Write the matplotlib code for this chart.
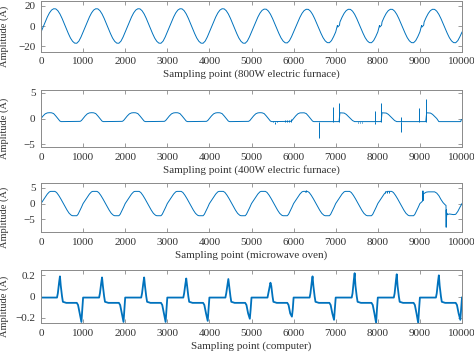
import numpy as np
import matplotlib
matplotlib.use("Agg")
import matplotlib.pyplot as plt

plt.rcParams['font.family'] = ['Liberation Serif', 'DejaVu Serif']

# ---------------- data ----------------
x_ticks = [0, 1000, 2000, 3000, 4000, 5000, 6000, 7000, 8000, 9000, 10000]
x_labels = ["Sampling point (800W electric furnace)",
            "Sampling point (400W electric furnace)",
            "Sampling point (microwave oven)",
            "Sampling point (computer)"]

# Panel 1: 800W furnace, one-cycle shape (offset within 1000-sample cycle)
p1_tx = [0, 50, 100, 150, 200, 250, 300, 350, 400, 450, 500, 550, 600, 650, 700, 750, 800, 850, 900, 950]
p1_ty = [-6.0, -1.0, 4.0, 8.8, 12.8, 15.6, 16.9, 16.8, 15.0, 11.8, 7.5, 2.6, -2.5, -7.4, -11.8, -15.0, -16.8, -16.9, -14.8, -10.8]
p1_cycle_scale = [1.0, 1.0, 1.0, 1.0, 1.0, 0.98, 0.97, 0.97, 0.97, 0.97]
p1_end = -6.0
# small shelves on rising edge in late cycles: (x, y)
p1_shelf_x = [7040, 7090, 8040, 8090, 9040, 9090]
p1_shelf_y = [0.5, 0.8, 0.5, 0.8, 0.5, 0.8]

# Panel 2: 400W furnace hump shape
p2_tx = [0, 50, 100, 150, 200, 250, 300, 350, 400, 450, 480, 930, 960]
p2_ty = [0.0, 0.5, 0.9, 1.08, 1.12, 1.1, 0.95, 0.5, 0.0, -0.5, -0.6, -0.55, -0.4]
p2_late_x = [6000, 6050, 6100, 6150, 6250, 6300, 6350, 6400, 6450, 6480, 7080,
             7100, 7200, 7250, 7300, 7350, 7400, 7450, 8080,
             8100, 8200, 8250, 8300, 8350, 8400, 8450, 9140,
             9160, 9250, 9300, 9350, 9400, 9450, 9970, 9985, 10000]
p2_late_y = [0.0, 0.5, 0.9, 1.08, 1.1, 0.95, 0.5, 0.0, -0.5, -0.6, -0.6,
             1.1, 1.05, 0.8, 0.4, 0.0, -0.4, -0.6, -0.6,
             1.1, 1.05, 0.8, 0.4, 0.0, -0.4, -0.6, -0.6,
             1.1, 1.05, 0.8, 0.4, 0.0, -0.6, -0.6, -0.2, -0.2]
p2_spike_x = [5520, 5560, 5600, 5800, 5850, 5900, 5950, 6600, 6940, 7080, 7530, 7580, 7630,
              7930, 7930, 8080, 8550, 8550, 8990, 9140]
p2_spike_lo = [-0.6, -1.0, -0.6, -0.6, -0.6, -0.6, -0.6, -3.8, -0.6, -0.6, -0.9, -0.8, -0.8,
               -0.6, -1.0, -0.6, -2.6, -0.6, -0.6, -0.6]
p2_spike_hi = [-0.4, -0.6, -0.4, -0.3, -0.2, -0.2, -0.1, -0.6, 2.2, 3.0, -0.6, -0.6, -0.6,
               1.5, -0.6, 3.0, -0.6, 0.3, 2.1, 3.7]

# Panel 3: microwave oven, clipped-sine cycle shape
p3_tx = [0, 50, 100, 150, 200, 230, 330, 370, 420, 470, 520, 570, 620, 670, 720, 750, 850, 880, 920, 960]
p3_ty = [0.0, 1.0, 2.0, 3.0, 3.7, 3.85, 3.85, 3.5, 2.6, 1.5, 0.3, -0.9, -2.1, -3.1, -3.7, -3.85, -3.85, -3.4, -2.3, -1.2]
p3_last_x = [9000, 9050, 9068, 9072, 9075, 9080, 9100, 9150, 9200, 9350, 9400, 9450, 9500, 9550,
             9600, 9620, 9624, 9628, 9632, 9640, 9650, 9700, 9800, 9850, 9900, 9950, 10000]
p3_last_y = [0.0, 0.6, 0.9, 4.0, 1.0, 3.0, 3.2, 3.6, 3.7, 3.7, 3.3, 2.5, 1.3, 0.3,
             -0.4, -0.6, -7.5, -2.0, -4.5, -3.0, -3.5, -3.3, -3.5, -3.4, -2.5, -1.2, 0.0]
p3_spike_x = [6300, 6280, 8180, 8230, 8270]
p3_spike_lo = [3.6, 3.7, 3.3, 3.2, 3.4]
p3_spike_hi = [4.4, 4.1, 3.9, 4.0, 3.9]

# Panel 4: computer
p4_tx = [0, 380, 400, 430, 450, 470, 500, 520, 600, 850, 880, 920, 960, 980]
p4_ty_base = [-0.01, -0.01, 0.03, None, None, 0.10, 0.0, -0.05, -0.06, -0.06, -0.08, -0.16, None, -0.12]
p4_peak = [0.19, 0.18, 0.18, 0.17, 0.165, 0.13, 0.19, 0.22, 0.21, 0.20]
p4_dip = [-0.24, -0.24, -0.24, -0.23, -0.21, -0.19, -0.22, -0.25, -0.25, -0.22]
p4_end = -0.01

# ---------------- build series ----------------
def build_p1():
    xs, ys = [], []
    for c, s in enumerate(p1_cycle_scale):
        for tx, ty in zip(p1_tx, p1_ty):
            xs.append(c * 1000 + tx); ys.append(ty * s)
    xs.append(10000); ys.append(p1_end)
    xs += p1_shelf_x; ys += p1_shelf_y
    order = np.argsort(xs, kind="stable")
    return np.array(xs)[order], np.array(ys)[order]

def build_p2():
    xs, ys = [], []
    for c in range(6):
        for tx, ty in zip(p2_tx, p2_ty):
            xs.append(c * 1000 + tx); ys.append(ty)
    xs += p2_late_x; ys += p2_late_y
    return np.array(xs), np.array(ys)

def build_p3():
    xs, ys = [], []
    for c in range(9):
        for tx, ty in zip(p3_tx, p3_ty):
            xs.append(c * 1000 + tx); ys.append(ty)
    xs += p3_last_x; ys += p3_last_y
    return np.array(xs), np.array(ys)

def build_p4():
    xs, ys = [], []
    for c in range(10):
        for tx, ty in zip(p4_tx, p4_ty_base):
            if tx in (430, 450):
                ty = p4_peak[c] * (0.7 if tx == 430 else 1.0)
            if tx == 960:
                ty = p4_dip[c]
            xs.append(c * 1000 + tx); ys.append(ty)
    xs.append(10000); ys.append(p4_end)
    return np.array(xs), np.array(ys)

# ---------------- figure ----------------
W, H = 474, 353
fig = plt.figure(figsize=(W / 100, H / 100), dpi=100)
line_c = '#0072BD'
spine_c = '#8a8a8a'
text_c = '#333333'

panels = [  # (top px, bottom px, ylim, yticks, yticklabels)
    (0.5, 51.5, (-25, 25), [-20, 0, 20], ['\u221220', '0', '20']),
    (90, 147, (-5.5, 5.5), [-5, 0, 5], ['\u22125', '0', '5']),
    (183, 232, (-9, 6.5), [-5, 0, 5], ['\u22125', '0', '5']),
    (270, 323, (-0.25, 0.25), [-0.2, 0, 0.2], ['\u22120.2', '0', '0.2']),
]
series = [build_p1(), build_p2(), build_p3(), build_p4()]
lws = [0.7, 0.7, 0.7, 1.3]

left_px, right_px = 41, 462
for i, ((top, bot, yl, yt, ytl), (sx, sy)) in enumerate(zip(panels, series)):
    hpx = bot - top
    ax = fig.add_axes([left_px / W, 1 - bot / H, (right_px - left_px) / W, hpx / H])
    ax.plot(sx, sy, color=line_c, lw=lws[i])
    if i == 1:
        ax.vlines(p2_spike_x, p2_spike_lo, p2_spike_hi, color=line_c, lw=0.7)
    if i == 2:
        ax.vlines(p3_spike_x, p3_spike_lo, p3_spike_hi, color=line_c, lw=0.7)
    ax.set_xlim(0, 10000)
    ax.set_ylim(*yl)
    ax.set_xticks(x_ticks)
    ax.set_xticklabels([str(t) for t in x_ticks])
    ax.set_yticks(yt)
    ax.set_yticklabels(ytl)
    ax.tick_params(direction='in', length=3, width=0.6, colors=spine_c, labelcolor=text_c,
                   labelsize=8, top=True, right=True, pad=4)
    for sp in ax.spines.values():
        sp.set_color(spine_c); sp.set_linewidth(0.7)
    ax.set_xlabel(x_labels[i], fontsize=8, color=text_c, labelpad=2.5)
    ax.set_ylabel("Amplitude (A)", fontsize=7.5, color=text_c)
    ax.yaxis.set_label_coords(-0.076, 0.5 - 10.0 / hpx)

fig.savefig("out.png", dpi=100)
